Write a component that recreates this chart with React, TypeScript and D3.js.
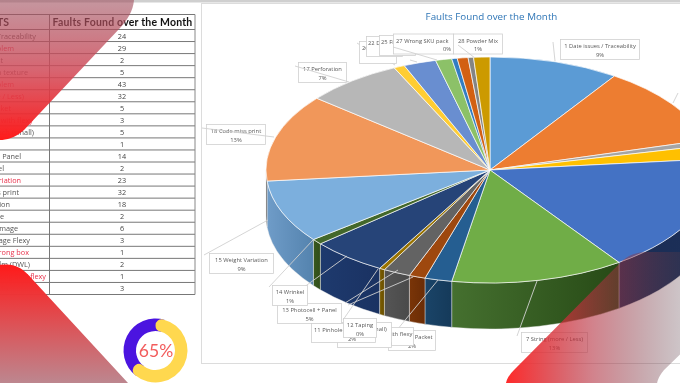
import React from "react";
import * as d3 from "d3";

const faultCounts = [24, 29, 2, 5, 43, 32, 5, 3, 5, 1, 14, 2, 23, 32, 18, 2, 6, 3, 1, 2, 1, 3];
const rowNames = ["Date issues / Traceability", "Sealing Problem", "Dust", "Rough texture", "Printing Problem", "String (more / Less)", "Empty Packet", "Pouch with flexy", "Pouch (small)", "Pinhole", "Photocell + Panel", "Panel", "Weight Variation", "Code miss print", "Perforation", "Size", "Damage", "Damage Flexy", "Wrong box", "Film (DWL)", "Wrong SKU flexy", "Powder Mix"];
const rowRed = [false, true, false, false, true, true, true, true, false, false, false, false, true, false, false, false, false, false, true, false, true, true];
const rowNameEnd = [36, 14, 3, 28, 14, 24, 11, 33, 34, 0, 21, 4, 21, 19, 10, 4, 18, 30, 29, 30, 46, 9];
const sliceColors = ["#5b9bd5", "#ed7d31", "#a5a5a5", "#ffc000", "#4472c4", "#70ad47", "#255e91", "#9e480e", "#636363", "#997300", "#264478", "#43682b", "#7cafdd", "#f1975a", "#b7b7b7", "#ffcd33", "#698ed0", "#8cc168", "#327dc2", "#d26012", "#848484", "#cc9a00"];
const wallLeft = ["#444", "#444", "#444", "#444", "#1a2d55", "#45702f", "#1a4468", "#7a3508", "#555555", "#7a5c00", "#1e3a6e", "#38591f", "#6f9cc8", "#555", "#555", "#555", "#555", "#555", "#555", "#555", "#555", "#555"];
const wallRight = ["#444", "#444", "#444", "#444", "#1c2f58", "#274a16", "#153a5a", "#6a2c05", "#4a4a4a", "#6a5000", "#1a3262", "#304d1a", "#5483ae", "#555", "#555", "#555", "#555", "#555", "#555", "#555", "#555", "#555"];

type Lab = { l: string; p: string; x: number; y: number; w: number; h?: number; lx?: number; vx?: number };
const labels: Lab[] = [
  { l: "26 Film", p: "", x: 359, y: 41, w: 37, h: 22, lx: 3 },
  { l: "22 Damage", p: "", x: 366, y: 36, w: 36, h: 20, lx: 2 },
  { l: "25 Film", p: "", x: 379, y: 35, w: 36, h: 20, lx: 2 },
  { l: "27 Wrong SKU pack", p: "0%", x: 393, y: 33.500, w: 60, lx: 3, vx: 54 },
  { l: "28 Powder Mix", p: "1%", x: 453, y: 33.500, w: 49 },
  { l: "1 Date issues / Traceability", p: "9%", x: 560, y: 39, w: 79 },
  { l: "17 Perforation", p: "7%", x: 298, y: 62, w: 48 },
  { l: "18 Code miss print", p: "13%", x: 206, y: 124, w: 59 },
  { l: "15 Weight Variation", p: "9%", x: 209, y: 253, w: 64 },
  { l: "7 String (more / Less)", p: "13%", x: 521, y: 332, w: 66 },
  { l: "8 Empty Packet", p: "2%", x: 388, y: 330, w: 47 },
  { l: "9 Pouch with flexy", p: "1%", x: 362, y: 327, w: 51, h: 18 },
  { l: "10 Pouch (small)", p: "2%", x: 337, y: 322, w: 54, h: 25 },
  { l: "13 Photocell + Panel", p: "5%", x: 277, y: 303, w: 64 },
  { l: "14 Wrinkel", p: "1%", x: 272, y: 285, w: 35 },
  { l: "11 Pinhole", p: "2%", x: 311, y: 323, w: 64, h: 19, lx: 3, vx: 41 },
  { l: "12 Taping", p: "0%", x: 343, y: 318, w: 33, h: 19 },
];
const leadersUnder: [number, number, number, number][] = [
  [204, 255, 268, 220], [517, 336, 537, 281], [269, 287, 313, 240], [300, 290, 347, 256],
  [343, 320, 378, 269], [345, 303, 398, 270], [348, 305, 413, 277], [397, 330, 438, 280],
  [553, 42, 555, 61], [673, 103, 678, 93], [357, 43, 365, 48], [387, 60, 395, 65], [410, 60, 417, 62],
];
const leadersOver: [number, number, number, number][] = [
  [295, 66, 349, 82], [202, 128, 274, 137], [393, 47, 437, 60], [458, 45, 475, 58],
];

const cx = 490, cy = 170, rx = 224, ry = 113, depth = 46;
const px = (a: number) => cx + rx * Math.sin(a);
const py = (a: number) => cy - ry * Math.cos(a);
const slices = d3.pie<number>().sort(null).startAngle(0).endAngle(Math.PI * 2)(faultCounts);
const rowY = d3.scaleLinear().domain([0, 22]).range([29.5, 294.5]);

function topPath(a: number, b: number) {
  return `M${cx},${cy}L${px(a)},${py(a)}A${rx},${ry} 0 ${b - a > Math.PI ? 1 : 0} 1 ${px(b)},${py(b)}Z`;
}
function wallPath(a: number, b: number) {
  return `M${px(a)},${py(a)}A${rx},${ry} 0 0 1 ${px(b)},${py(b)}L${px(b)},${py(b) + depth}A${rx},${ry} 0 0 0 ${px(a)},${py(a) + depth}Z`;
}

const donutYellow = d3.arc().innerRadius(19.5).outerRadius(32).cornerRadius(6.2);
const donutPurple = d3.arc().innerRadius(19.5).outerRadius(32);
const donutShare = 65;
const donutEnd = (donutShare / 100) * Math.PI * 2;

const labelFont = "'Open Sans', sans-serif";

const Leader = ({ s }: { s: [number, number, number, number] }) => (
  <line x1={s[0]} y1={s[1]} x2={s[2]} y2={s[3]} stroke="#d0d0d0" strokeWidth={0.9} />
);

export default function App() {
  const front = slices
    .map((s, i) => ({ i, a: Math.max(s.startAngle, Math.PI / 2), b: Math.min(s.endAngle, Math.PI * 1.5) }))
    .filter((w) => w.b > w.a);
  return (
    <svg width={680} height={383} viewBox="0 0 680 383" style={{ position: "absolute", left: 0, top: 0, background: "#fff", filter: "blur(0.35px)" }}>
      <defs>
        {front.map((w) => (
          <linearGradient key={w.i} id={`wall${w.i}`} gradientUnits="userSpaceOnUse" x1={Math.min(px(w.a), px(w.b))} x2={Math.max(px(w.a), px(w.b))} y1={0} y2={0}>
            <stop offset="0" stopColor={wallLeft[w.i]} />
            <stop offset="1" stopColor={wallRight[w.i]} />
          </linearGradient>
        ))}
        <linearGradient id="ovTL" gradientUnits="userSpaceOnUse" x1={0} y1={0} x2={0} y2={140}>
          <stop offset="0" stopColor="#a0505f" stopOpacity={0.6} />
          <stop offset="0.5" stopColor="#d04a58" stopOpacity={0.85} />
          <stop offset="1" stopColor="#ff1a1a" stopOpacity={1} />
        </linearGradient>
        <linearGradient id="ovBL" gradientUnits="userSpaceOnUse" x1={0} y1={265} x2={0} y2={383}>
          <stop offset="0" stopColor="#ff1a1a" stopOpacity={1} />
          <stop offset="1" stopColor="#b98089" stopOpacity={0.95} />
        </linearGradient>
        <linearGradient id="ovBR" gradientUnits="userSpaceOnUse" x1={506} y1={0} x2={680} y2={0}>
          <stop offset="0" stopColor="#ff2a2a" stopOpacity={1} />
          <stop offset="0.5" stopColor="#b43040" stopOpacity={0.6} />
          <stop offset="1" stopColor="#5a3c46" stopOpacity={0.3} />
        </linearGradient>
      </defs>

      <rect x={0} y={0} width={680} height={2.5} fill="#cfcfcf" />

      {/* table */}
      <g>
        {d3.range(23).map((i) => (
          <line key={i} x1={0} x2={195} y1={rowY(i)} y2={rowY(i)} stroke="#777" strokeWidth={1} />
        ))}
        <line x1={0} x2={195} y1={14.5} y2={14.5} stroke="#777" />
        <line x1={49.5} x2={49.5} y1={14.5} y2={294.5} stroke="#777" />
        <line x1={195} x2={195} y1={14.5} y2={294.5} stroke="#888" />
        <text x={9} y={26} textAnchor="end" fontFamily="Lato, sans-serif" fontWeight={700} fontSize={10.5} fill="#111">FAULTS</text>
        <text x={122.5} y={26} textAnchor="middle" fontFamily="Lato, sans-serif" fontWeight={700} fontSize={10.5} fill="#111" letterSpacing={0.2}>Faults Found over the Month</text>
        {faultCounts.map((v, i) => (
          <g key={i}>
            {rowNameEnd[i] > 0 && (
              <text x={rowNameEnd[i]} y={rowY(i) + 9} textAnchor="end" fontFamily={labelFont} fontSize={7.3} fill={rowRed[i] ? "#e8304a" : "#555"}>{rowNames[i]}</text>
            )}
            <text x={122} y={rowY(i) + 9} textAnchor="middle" fontFamily={labelFont} fontSize={7.3} fill="#444">{v}</text>
          </g>
        ))}
      </g>

      {/* chart frame */}
      <rect x={201.5} y={3.5} width={500} height={360} fill="#fff" stroke="#dcdcdc" />
      <text x={491.5} y={20} textAnchor="middle" fontFamily={labelFont} fontSize={9.8} fill="#2e75b6">Faults Found over the Month</text>

      {/* pie walls */}
      {front.map((w) => (
        <path key={w.i} d={wallPath(w.a, w.b)} fill={`url(#wall${w.i})`} stroke="#e8e8e8" strokeOpacity={0.55} strokeWidth={0.8} />
      ))}
      {/* pie top */}
      {slices.map((s, i) => (
        <path key={i} d={topPath(s.startAngle, s.endAngle)} fill={sliceColors[i]} stroke="#fff" strokeOpacity={0.75} strokeWidth={0.9} />
      ))}

      {leadersUnder.map((s, i) => <Leader key={i} s={s} />)}
      {labels.map((d) => {
        const h = d.h ?? 20;
        return (
          <g key={d.l}>
            <rect x={d.x + 0.5} y={d.y + 0.5} width={d.w} height={h} fill="#fff" stroke="#d0d0d0" strokeWidth={0.8} />
            <svg x={d.x} y={d.y} width={d.w + 1} height={h + 1} style={{ overflow: "hidden" }}>
              <text x={d.lx ?? d.w / 2 + 0.5} y={9} textAnchor={d.lx !== undefined ? "start" : "middle"} fontFamily={labelFont} fontSize={5.8} fill="#595959">{d.l}</text>
              <text x={d.vx ?? d.w / 2 + 0.5} y={17.5} textAnchor="middle" fontFamily={labelFont} fontSize={5.8} fill="#595959">{d.p}</text>
            </svg>
          </g>
        );
      })}
      {leadersOver.map((s, i) => <Leader key={i} s={s} />)}

      {/* donut */}
      <g transform="translate(155.5,350.5)">
        <path d={donutPurple({ startAngle: donutEnd - 0.3, endAngle: Math.PI * 2 + 0.3 } as any) ?? ""} fill="#4b14e0" />
        <path d={donutYellow({ startAngle: 0, endAngle: donutEnd } as any) ?? ""} fill="#ffd84f" />
        <text x={0.5} y={6.5} textAnchor="middle" fontFamily="Lato, sans-serif" fontSize={17.5} fill="#f25c5c">{donutShare}%</text>
      </g>

      {/* decorative ribbons */}
      <path d="M134,-5L134,0C133,11 128,19 120,28L24,130C15,138 6,140 0,140L-5,140L-5,-5Z" fill="url(#ovTL)" />
      <path d="M-5,265L5,264.500C16,264 24,269 33,280L128,383L128,390L-5,390Z" fill="url(#ovBL)" />
      <path d="M505,390L506,383C507,378 510,374 514,370L620,263C628,255 636,252 648,252L690,252L690,345L664,370C660,375 657,379 656,390Z" fill="url(#ovBR)" />
    </svg>
  );
}
